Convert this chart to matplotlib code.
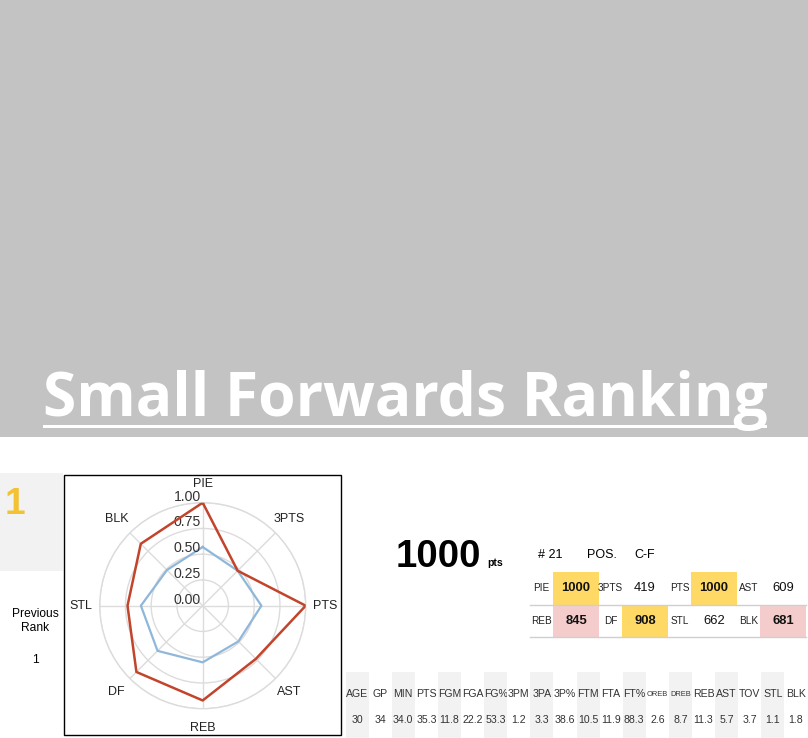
import numpy as np
import matplotlib
matplotlib.use("Agg")
import matplotlib.pyplot as plt
from matplotlib.patches import Rectangle
from matplotlib.transforms import Bbox, TransformedBbox

# ---------------- data ----------------
title = "Small Forwards Ranking"
rank = "1"
previous_rank = "1"

radar_categories = ["PIE", "3PTS", "PTS", "AST", "REB", "DF", "STL", "BLK"]
player_values = [1.00, 0.48, 1.00, 0.73, 0.92, 0.91, 0.73, 0.85]
average_values = [0.57, 0.48, 0.57, 0.49, 0.55, 0.62, 0.60, 0.49]
radar_ticks = [0.00, 0.25, 0.50, 0.75, 1.00]

total_points = "1000"
jersey = "# 21"
position = "C-F"

score_labels = ["PIE", "3PTS", "PTS", "AST", "REB", "DF", "STL", "BLK"]
score_values = [1000, 419, 1000, 609, 845, 908, 662, 681]
score_highlight = ["gold", None, "gold", None, "pink", "gold", None, "pink"]

stat_names = ["AGE", "GP", "MIN", "PTS", "FGM", "FGA", "FG%", "3PM", "3PA", "3P%",
              "FTM", "FTA", "FT%", "OREB", "DREB", "REB", "AST", "TOV", "STL", "BLK"]
stat_values = ["30", "34", "34.0", "35.3", "11.8", "22.2", "53.3", "1.2", "3.3", "38.6",
               "10.5", "11.9", "88.3", "2.6", "8.7", "11.3", "5.7", "3.7", "1.1", "1.8"]

# ---------------- style ----------------
W, H = 808, 738
BANNER = "#c3c3c3"
GOLD_TXT = "#f3c232"
YELLOW = "#ffd966"
PINK = "#f4cccc"
RED = "#c1442b"
BLUE = "#8fb7da"
GRID = "#dcdcdc"
SANS = ["Liberation Sans", "DejaVu Sans"]

fig = plt.figure(figsize=(W / 100, H / 100), dpi=100)
fig.patch.set_facecolor("white")
bg = fig.add_axes([0, 0, 1, 1])
bg.set_xlim(0, W)
bg.set_ylim(H, 0)
bg.axis("off")
bg.set_zorder(0)

def px(v):
    return v * 0.72

# banner
bg.add_patch(Rectangle((0, 0), W, 437, facecolor=BANNER, edgecolor="none"))
t = bg.text(W / 2 + 1, 416, title, ha="center", va="baseline", color="white",
            fontsize=px(60.5), fontweight="bold", family=["Open Sans", "DejaVu Sans"])
fig.canvas.draw()
bb = t.get_window_extent(fig.canvas.get_renderer())
x0, x1 = bb.x0, bb.x1
bg.add_patch(Rectangle((x0, 425), x1 - x0, 3.2, facecolor="white", edgecolor="none"))

# rank box
bg.add_patch(Rectangle((0, 473), 63, 98, facecolor="#f2f2f2", edgecolor="none"))
bg.text(5, 505, rank, ha="left", va="center", color=GOLD_TXT, fontsize=px(37),
        fontweight="bold", family=SANS)
bg.text(35, 614, "Previous", ha="center", va="center", fontsize=px(12), family=SANS)
bg.text(35, 628, "Rank", ha="center", va="center", fontsize=px(12), family=SANS)
bg.text(35, 660, previous_rank, ha="center", va="center", fontsize=px(12), family=SANS)

# radar frame
bg.add_patch(Rectangle((64, 475), 277, 260, facecolor="white", edgecolor="black", lw=1.0))

# radar
cx, cy, R = 202.7, 605.7, 103
ax = fig.add_axes([(cx - R) / W, (H - cy - R) / H, 2 * R / W, 2 * R / H], projection="polar")
ax.set_zorder(2)
ax.patch.set_alpha(0)
ax.set_theta_zero_location("N")
ax.set_theta_direction(-1)
n = len(radar_categories)
angles = np.arange(n) * 2 * np.pi / n
ax.set_ylim(0, 1.0)
ax.set_xticks(angles)
ax.set_xticklabels([])
ax.set_yticks(radar_ticks[1:])
ax.set_yticklabels([])
ax.grid(True, color=GRID, lw=1.0)
ax.spines["polar"].set_color(GRID)
ax.spines["polar"].set_linewidth(1.0)
ax.tick_params(length=0)

def closed(v):
    return list(v) + [v[0]]

ang_c = closed(angles)
ax.plot(ang_c, closed(average_values), color=BLUE, lw=1.6, zorder=3)
ax.plot(ang_c, closed(player_values), color=RED, lw=1.8, zorder=4)

for a, lab in zip(angles, radar_categories):
    ax.text(a, 1.185, lab, ha="center", va="center", fontsize=px(12.5), family=SANS,
            color="#222222", clip_on=False)
for tv in radar_ticks:
    ax.annotate(f"{tv:.2f}", xy=(0, tv), xytext=(-1.5, 1.5), textcoords="offset points",
                ha="right", va="baseline", fontsize=px(14), family=SANS, color="#333333",
                annotation_clip=False)

# points block
bg.text(396, 567, total_points, ha="left", va="baseline", fontsize=px(38.5),
        fontweight="bold", family=SANS)
bg.text(487, 566, "pts", ha="left", va="baseline", fontsize=px(10.5), fontweight="bold",
        family=SANS)
bg.text(538, 555, jersey, ha="left", va="center", fontsize=px(12.5), family=SANS)
bg.text(587, 555, "POS.", ha="left", va="center", fontsize=px(12.5), family=SANS)
bg.text(634, 555, position, ha="left", va="center", fontsize=px(12.5), family=SANS)

# score table
col_edges = [530, 553, 599, 622, 668, 691, 737, 760, 806]
row_edges = [572, 604.5, 637]
for i, (lab, val, hl) in enumerate(zip(score_labels, score_values, score_highlight)):
    r, c = divmod(i, 4)
    lx0, lx1 = col_edges[2 * c], col_edges[2 * c + 1]
    vx0, vx1 = col_edges[2 * c + 1], col_edges[2 * c + 2]
    y0, y1 = row_edges[r], row_edges[r + 1]
    ym = (y0 + y1) / 2
    if hl is not None:
        bg.add_patch(Rectangle((vx0, y0), vx1 - vx0, y1 - y0,
                               facecolor=YELLOW if hl == "gold" else PINK, edgecolor="none"))
    bg.text((lx0 + lx1) / 2, ym, lab, ha="center", va="center", fontsize=px(10),
            family=SANS, color="#222222")
    bg.text((vx0 + vx1) / 2, ym, str(val), ha="center", va="center", fontsize=px(13),
            family=SANS, fontweight="bold" if hl else "normal", color="#111111")
for y in row_edges[1:]:
    bg.plot([col_edges[0], col_edges[-1]], [y, y], color="#cfcfcf", lw=1.0)

# stats table
s_x0, s_w = 345.5, 23.1
for i, (name, val) in enumerate(zip(stat_names, stat_values)):
    cx0 = s_x0 + i * s_w
    if i % 2 == 0:
        bg.add_patch(Rectangle((cx0, 672), s_w, 70, facecolor="#f2f2f2", edgecolor="none"))
    fs = 7.5 if name in ("OREB", "DREB") else 10.5
    tx = bg.text(cx0 + s_w / 2, 694, name, ha="center", va="center", fontsize=px(fs),
                 family=SANS, color="#333333")
    clip = TransformedBbox(Bbox([[cx0 + 0.5, 600], [cx0 + s_w - 0.5, 740]]), bg.transData)
    tx.set_clip_box(clip)
    tx.set_clip_on(True)
    bg.text(cx0 + s_w / 2, 720, val, ha="center", va="center", fontsize=px(10.5),
            family=SANS, color="#333333")

fig.savefig("out.png", dpi=100, facecolor="white")
